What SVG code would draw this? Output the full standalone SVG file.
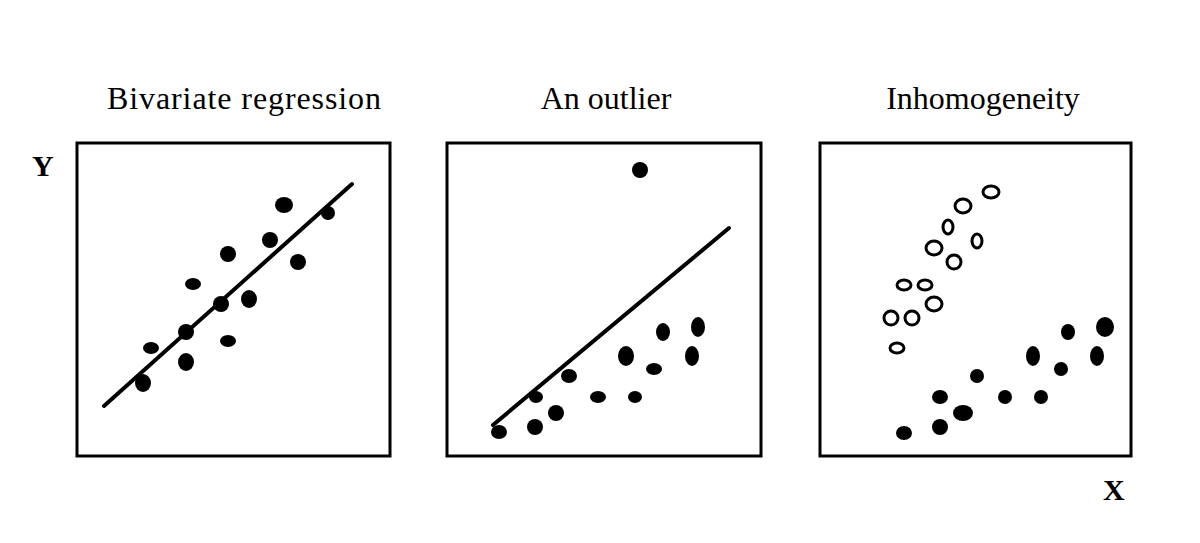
<svg xmlns="http://www.w3.org/2000/svg" width="1200" height="543" viewBox="0 0 1200 543">
<style>
.t{font-family:"Liberation Serif",serif;font-size:32px;text-anchor:middle;fill:#000}
.ax{font-family:"Liberation Serif",serif;font-size:30px;font-weight:bold;fill:#000}
.box{fill:none;stroke:#000;stroke-width:3}
.ln{stroke:#000;stroke-width:4;stroke-linecap:round}
.f ellipse{fill:#000}
.o ellipse{fill:none;stroke:#000;stroke-width:3}
</style>
<rect width="1200" height="543" fill="#fff"/>
<text class="t" x="244" y="109" textLength="274">Bivariate regression</text>
<text class="t" x="606" y="109">An outlier</text>
<text class="t" x="983" y="109">Inhomogeneity</text>
<text class="ax" x="32" y="176">Y</text>
<text class="ax" x="1103" y="500">X</text>
<g id="panel1">
<rect class="box" x="77" y="143" width="313" height="313"/>
<line class="ln" x1="104" y1="406" x2="352" y2="184"/>
<g class="f">
<ellipse cx="284" cy="205" rx="9" ry="8"/><ellipse cx="328" cy="213" rx="7" ry="7"/>
<ellipse cx="270" cy="240" rx="8" ry="8"/><ellipse cx="228" cy="254" rx="8" ry="8"/>
<ellipse cx="298" cy="262" rx="8" ry="8"/><ellipse cx="193" cy="284" rx="8" ry="6"/>
<ellipse cx="249" cy="299" rx="8" ry="9"/><ellipse cx="221" cy="304" rx="8" ry="8"/>
<ellipse cx="186" cy="332" rx="8" ry="8"/><ellipse cx="228" cy="341" rx="8" ry="6"/>
<ellipse cx="151" cy="348" rx="8" ry="6"/><ellipse cx="186" cy="362" rx="8" ry="9"/>
<ellipse cx="143" cy="383" rx="8" ry="9"/>
</g>
</g>
<g id="panel2">
<rect class="box" x="447" y="143" width="314" height="313"/>
<line class="ln" x1="493" y1="425" x2="729" y2="228"/>
<g class="f">
<ellipse cx="640" cy="170" rx="8" ry="8"/><ellipse cx="663" cy="332" rx="7" ry="9"/>
<ellipse cx="698" cy="327" rx="7" ry="10"/><ellipse cx="626" cy="356" rx="8" ry="10"/>
<ellipse cx="692" cy="356" rx="7" ry="10"/><ellipse cx="654" cy="369" rx="8" ry="6"/>
<ellipse cx="569" cy="376" rx="8" ry="7"/><ellipse cx="536" cy="397" rx="7" ry="6"/>
<ellipse cx="598" cy="397" rx="8" ry="6"/><ellipse cx="635" cy="397" rx="7" ry="6"/>
<ellipse cx="556" cy="413" rx="8" ry="8"/><ellipse cx="535" cy="427" rx="8" ry="8"/>
<ellipse cx="499" cy="432" rx="8" ry="7"/>
</g>
</g>
<g id="panel3">
<rect class="box" x="820" y="143" width="311" height="313"/>
<g class="o">
<ellipse cx="991" cy="192" rx="8" ry="6"/><ellipse cx="963" cy="206" rx="8" ry="7"/>
<ellipse cx="948" cy="227" rx="5" ry="7"/><ellipse cx="977" cy="241" rx="5" ry="7"/>
<ellipse cx="934" cy="248" rx="8" ry="7"/><ellipse cx="954" cy="262" rx="7" ry="7"/>
<ellipse cx="904" cy="285" rx="7" ry="5"/><ellipse cx="925" cy="285" rx="7" ry="5"/>
<ellipse cx="934" cy="304" rx="8" ry="7"/><ellipse cx="891" cy="318" rx="7" ry="7"/>
<ellipse cx="912" cy="318" rx="7" ry="7"/><ellipse cx="897" cy="348" rx="7" ry="5"/>
</g>
<g class="f">
<ellipse cx="1105" cy="327" rx="9" ry="10"/><ellipse cx="1068" cy="332" rx="7" ry="8"/>
<ellipse cx="1033" cy="356" rx="7" ry="10"/><ellipse cx="1097" cy="356" rx="7" ry="10"/>
<ellipse cx="1061" cy="369" rx="7" ry="7"/><ellipse cx="977" cy="376" rx="7" ry="7"/>
<ellipse cx="940" cy="397" rx="8" ry="7"/><ellipse cx="1005" cy="397" rx="7" ry="7"/>
<ellipse cx="1041" cy="397" rx="7" ry="7"/><ellipse cx="963" cy="413" rx="10" ry="8"/>
<ellipse cx="940" cy="427" rx="8" ry="8"/><ellipse cx="904" cy="433" rx="8" ry="7"/>
</g>
</g>
<g id="connectors"/>
</svg>
